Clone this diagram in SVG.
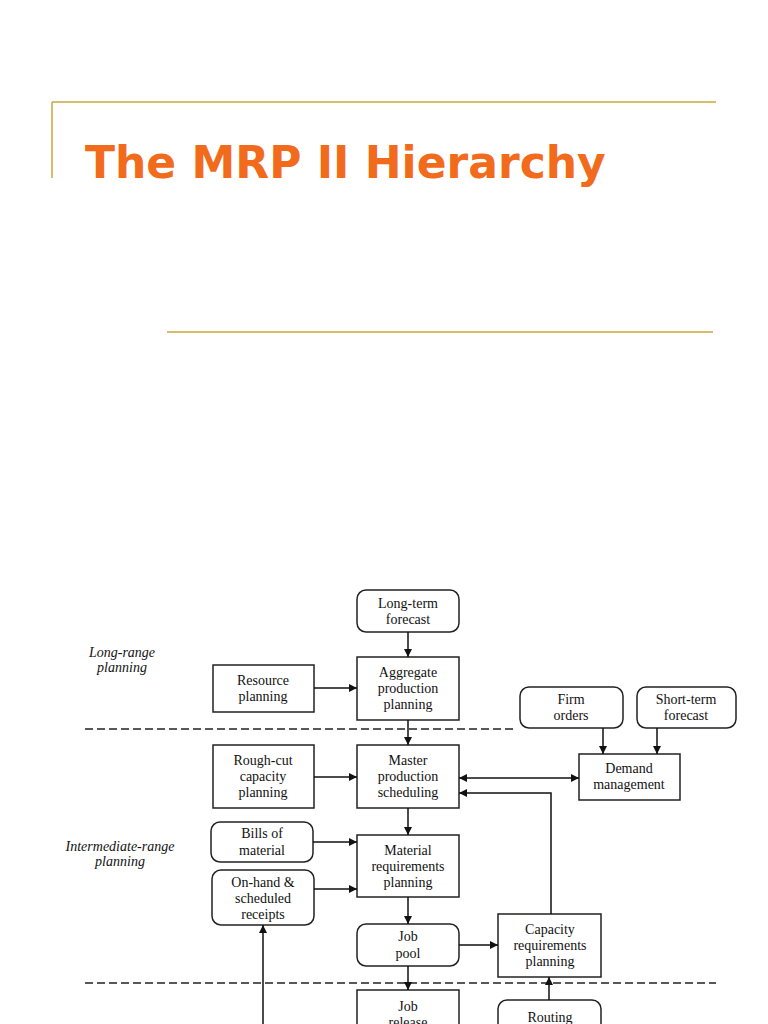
<svg xmlns="http://www.w3.org/2000/svg" width="768" height="1024" viewBox="0 0 768 1024">
<defs>
<marker id="ah" viewBox="0 0 10 10" refX="10" refY="5" markerWidth="8" markerHeight="8" orient="auto-start-reverse" markerUnits="userSpaceOnUse"><path d="M0,0L10,5L0,10z" fill="#111"/></marker>
</defs>
<style>
.b{fill:#fff;stroke:#222;stroke-width:1.5}
.t{font-family:"Liberation Serif",serif;font-size:14px;fill:#111;text-anchor:middle}
.i{font-family:"Liberation Serif",serif;font-size:14px;font-style:italic;fill:#111;text-anchor:middle}
.c{fill:none;stroke:#111;stroke-width:1.5;marker-end:url(#ah)}
.d{stroke:#222;stroke-width:1.3;stroke-dasharray:8,4}
.g{stroke:#C9A93C;stroke-width:1.5}
</style>
<rect width="768" height="1024" fill="#fff"/>
<line class="g" x1="52" y1="102" x2="716" y2="102"/>
<line class="g" x1="52" y1="102" x2="52" y2="178"/>
<line class="g" x1="167" y1="332" x2="713" y2="332"/>
<text x="85" y="178" font-family="DejaVu Sans,sans-serif" font-weight="bold" font-size="44" fill="#F26B1D">The MRP II Hierarchy</text>
<line class="d" x1="85" y1="729" x2="515" y2="729"/>
<line class="d" x1="85" y1="983" x2="716" y2="983"/>
<text class="i" x="122" y="657">Long-range</text><text class="i" x="122" y="672">planning</text>
<text class="i" x="120" y="851">Intermediate-range</text><text class="i" x="120" y="866">planning</text>
<g id="ltf"><rect class="b" x="357" y="590" width="102" height="42" rx="9"/><text class="t" x="408" y="608">Long-term</text><text class="t" x="408" y="624">forecast</text></g>
<g id="app"><rect class="b" x="357" y="657" width="102" height="63"/><text class="t" x="408" y="677">Aggregate</text><text class="t" x="408" y="693">production</text><text class="t" x="408" y="709">planning</text></g>
<g id="rp"><rect class="b" x="213" y="665" width="101" height="47"/><text class="t" x="263" y="685">Resource</text><text class="t" x="263" y="701">planning</text></g>
<g id="fo"><rect class="b" x="520" y="687" width="103" height="41" rx="9"/><text class="t" x="571" y="704">Firm</text><text class="t" x="571" y="720">orders</text></g>
<g id="stf"><rect class="b" x="637" y="687" width="99" height="41" rx="9"/><text class="t" x="686" y="704">Short-term</text><text class="t" x="686" y="720">forecast</text></g>
<g id="mps"><rect class="b" x="357" y="745" width="102" height="63"/><text class="t" x="408" y="765">Master</text><text class="t" x="408" y="781">production</text><text class="t" x="408" y="797">scheduling</text></g>
<g id="rc"><rect class="b" x="213" y="745" width="101" height="63"/><text class="t" x="263" y="765">Rough-cut</text><text class="t" x="263" y="781">capacity</text><text class="t" x="263" y="797">planning</text></g>
<g id="dm"><rect class="b" x="579" y="754" width="101" height="46"/><text class="t" x="629" y="773">Demand</text><text class="t" x="629" y="789">management</text></g>
<g id="bom"><rect class="b" x="211" y="822" width="102" height="40" rx="9"/><text class="t" x="262" y="838">Bills of</text><text class="t" x="262" y="855">material</text></g>
<g id="mrp"><rect class="b" x="357" y="835" width="102" height="62"/><text class="t" x="408" y="855">Material</text><text class="t" x="408" y="871">requirements</text><text class="t" x="408" y="887">planning</text></g>
<g id="oh"><rect class="b" x="212" y="870" width="102" height="55" rx="9"/><text class="t" x="263" y="887">On-hand &amp;</text><text class="t" x="263" y="903">scheduled</text><text class="t" x="263" y="919">receipts</text></g>
<g id="jp"><rect class="b" x="357" y="924" width="102" height="42" rx="9"/><text class="t" x="408" y="941">Job</text><text class="t" x="408" y="958">pool</text></g>
<g id="crp"><rect class="b" x="498" y="914" width="103" height="63"/><text class="t" x="550" y="934">Capacity</text><text class="t" x="550" y="950">requirements</text><text class="t" x="550" y="966">planning</text></g>
<g id="jr"><rect class="b" x="357" y="990" width="102" height="50"/><text class="t" x="408" y="1011">Job</text><text class="t" x="408" y="1027">release</text></g>
<g id="rt"><rect class="b" x="498" y="1000" width="103" height="40" rx="9"/><text class="t" x="550" y="1022">Routing</text></g>
<g id="connectors">
<path class="c" d="M408,632V657"/>
<path class="c" d="M314,688H357"/>
<path class="c" d="M408,720V745"/>
<path class="c" d="M603,728V754"/>
<path class="c" d="M657,728V754"/>
<path class="c" d="M459,778H579" style="marker-start:url(#ah)"/>
<path class="c" d="M551,914V793H459"/>
<path class="c" d="M314,777H357"/>
<path class="c" d="M408,808V835"/>
<path class="c" d="M313,842H357"/>
<path class="c" d="M314,889H357"/>
<path class="c" d="M408,897V924"/>
<path class="c" d="M459,945H498"/>
<path class="c" d="M408,966V990"/>
<path class="c" d="M357,1030H263V925"/>
<path class="c" d="M549,1000V977"/>
</g>
</svg>
